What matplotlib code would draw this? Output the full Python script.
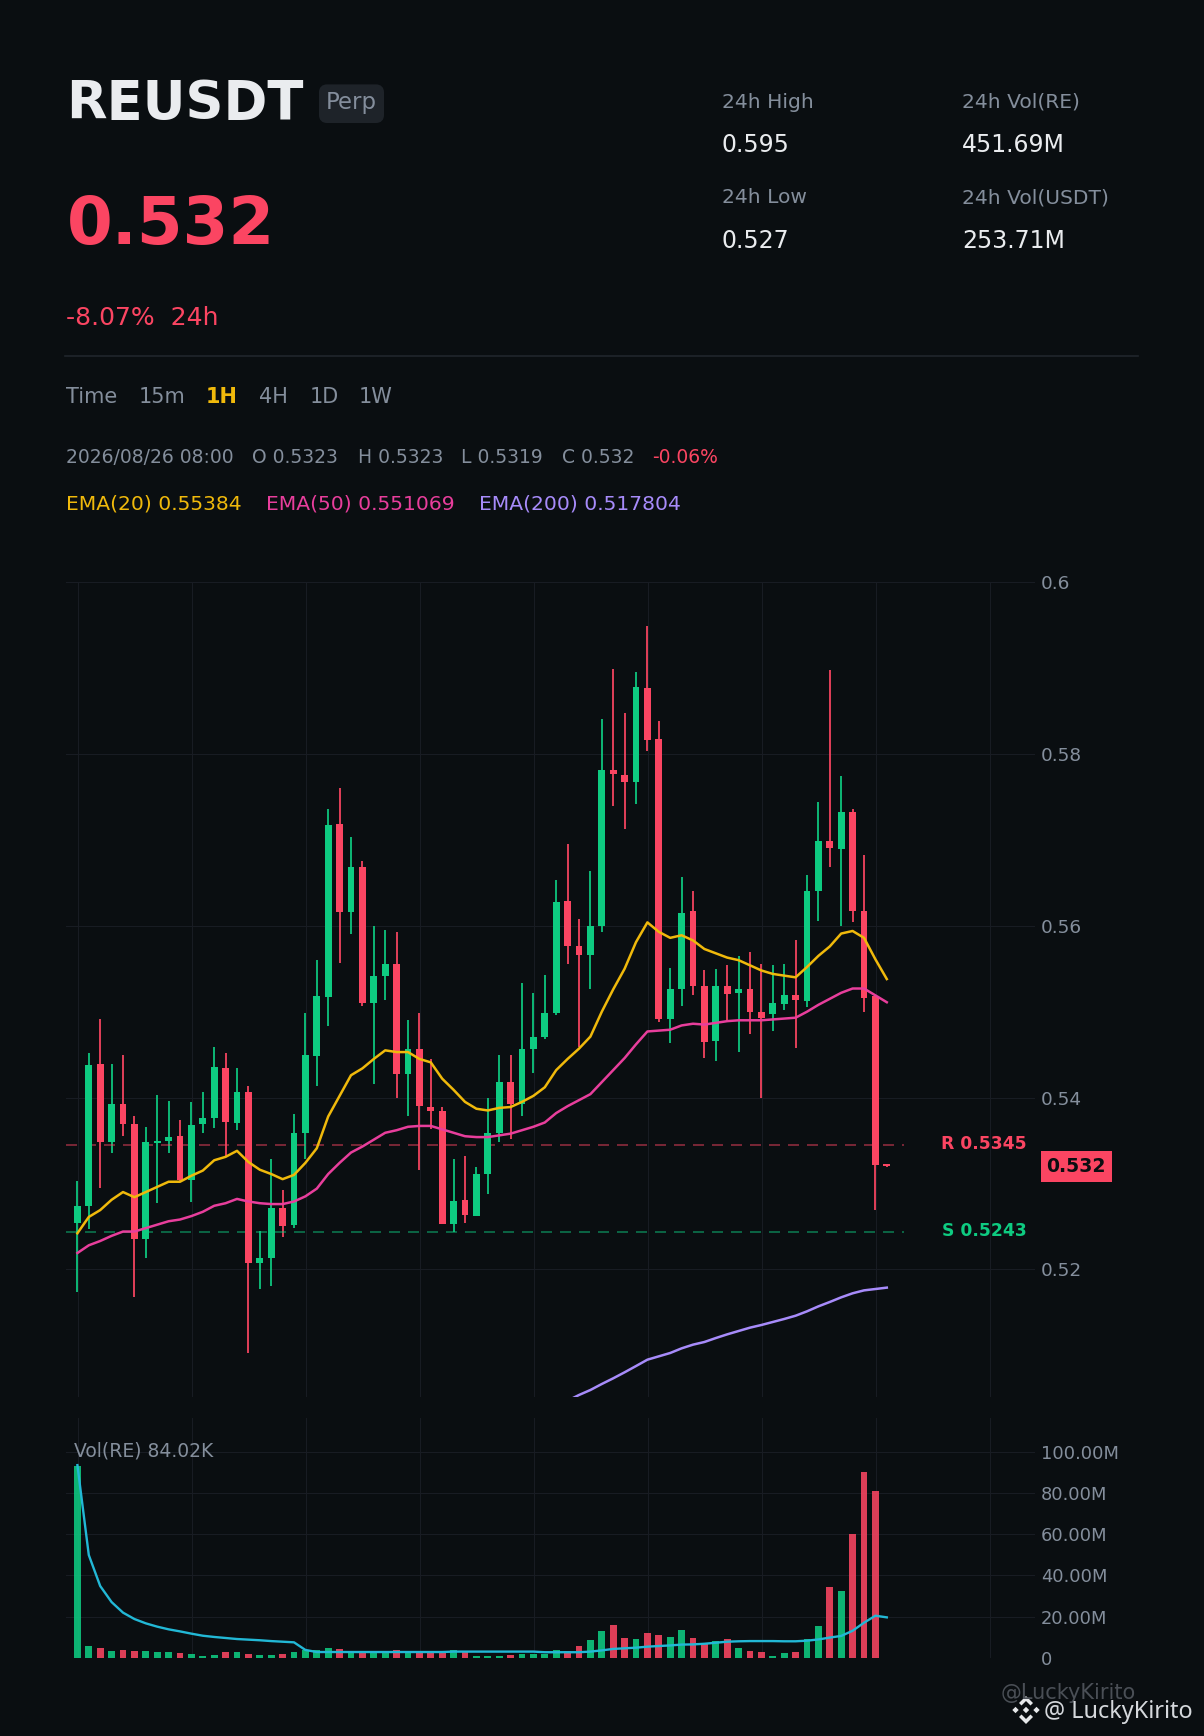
import matplotlib
matplotlib.use("Agg")
import matplotlib.pyplot as plt
from matplotlib.patches import FancyBboxPatch, Polygon, Rectangle
import numpy as np

W, H = 1204, 1736
BG = "#0a0e11"
UP = "#0ecb81"
DOWN = "#fb4562"
GRID = "#181c23"
MUTED = "#848e9c"
WHITE = "#eaecef"
YELLOW = "#f0b90b"
PINK = "#e83e9c"
PURPLE = "#a78bfa"
CYAN = "#22b8d6"

# candles, 1h
opens = [.5254, .5274, .5439, .5348, .5393, .5369, .5235, .5347, .5350, .5355, .5304, .5369,
         .5376, .5435, .5370, .5407, .5207, .5213, .5272, .5252, .5359, .5448, .5517, .5718,
         .5616, .5669, .5510, .5541, .5555, .5428, .5456, .5389, .5384, .5253, .5281, .5262,
         .5311, .5359, .5418, .5393, .5457, .5471, .5499, .5629, .5576, .5566, .5600, .5782,
         .5776, .5768, .5877, .5817, .5492, .5527, .5617, .5530, .5466, .5530, .5522, .5526,
         .5500, .5497, .5509, .5520, .5513, .5641, .5699, .5690, .5733, .5617, .5518, .5323]
highs = [.5303, .5452, .5491, .5439, .5449, .5379, .5366, .5403, .5396, .5374, .5395, .5407,
         .5459, .5452, .5435, .5414, .5245, .5329, .5292, .5381, .5499, .5560, .5736, .5760,
         .5704, .5676, .5600, .5595, .5593, .5490, .5499, .5445, .5389, .5328, .5332, .5319,
         .5399, .5449, .5450, .5533, .5522, .5543, .5653, .5695, .5608, .5664, .5841, .5899,
         .5848, .5895, .5949, .5838, .5551, .5657, .5641, .5549, .5550, .5554, .5565, .5570,
         .5556, .5554, .5555, .5584, .5659, .5744, .5898, .5775, .5736, .5683, .5518, .5323]
lows = [.5174, .5247, .5295, .5336, .5355, .5168, .5213, .5277, .5336, .5302, .5278, .5359,
        .5364, .5331, .5362, .5103, .5177, .5181, .5238, .5248, .5329, .5414, .5483, .5557,
        .5591, .5507, .5416, .5514, .5400, .5379, .5316, .5363, .5253, .5243, .5254, .5262,
        .5288, .5348, .5352, .5379, .5429, .5468, .5496, .5555, .5459, .5526, .5593, .5739,
        .5713, .5742, .5803, .5488, .5463, .5507, .5520, .5446, .5443, .5489, .5453, .5474,
        .5400, .5478, .5502, .5458, .5506, .5606, .5669, .5600, .5604, .5500, .5269, .5319]
closes = [.5274, .5438, .5348, .5393, .5369, .5235, .5348, .5350, .5354, .5304, .5368, .5376,
          .5436, .5371, .5407, .5207, .5213, .5271, .5250, .5359, .5449, .5518, .5717, .5616,
          .5669, .5510, .5541, .5555, .5428, .5457, .5390, .5384, .5253, .5279, .5263, .5311,
          .5359, .5418, .5393, .5457, .5470, .5498, .5628, .5577, .5566, .5600, .5782, .5777,
          .5768, .5878, .5816, .5491, .5527, .5615, .5530, .5465, .5530, .5521, .5527, .5500,
          .5493, .5510, .5520, .5514, .5640, .5699, .5691, .5733, .5617, .5516, .5321, .5320]

ema20 = [.5242, .5261, .5269, .5281, .5290, .5284, .5290, .5296, .5302, .5302, .5309, .5315,
         .5327, .5331, .5338, .5325, .5316, .5311, .5305, .5310, .5324, .5341, .5378, .5402,
         .5426, .5434, .5445, .5455, .5453, .5453, .5445, .5441, .5422, .5409, .5395, .5387,
         .5385, .5388, .5389, .5395, .5402, .5412, .5432, .5445, .5457, .5471, .5500, .5526,
         .5550, .5581, .5604, .5593, .5586, .5589, .5583, .5573, .5568, .5563, .5560, .5554,
         .5548, .5544, .5542, .5540, .5552, .5565, .5576, .5591, .5594, .5586, .5561, .5538]
ema50 = [.5219, .5228, .5233, .5239, .5244, .5244, .5248, .5252, .5256, .5258, .5262, .5267,
         .5274, .5277, .5282, .5279, .5277, .5276, .5276, .5279, .5285, .5294, .5311, .5324,
         .5336, .5343, .5351, .5359, .5362, .5366, .5367, .5367, .5363, .5359, .5355, .5354,
         .5354, .5356, .5358, .5362, .5366, .5371, .5382, .5390, .5397, .5404, .5418, .5432,
         .5446, .5462, .5477, .5478, .5479, .5484, .5486, .5485, .5487, .5489, .5490, .5490,
         .5490, .5491, .5492, .5493, .5500, .5508, .5515, .5522, .5527, .5527, .5519, .5511]
# ema200 only shows from candle 43 on, before that it is under the panel
ema200_start = 43
ema200 = [.5047, .50537, .50595, .50665, .50731, .50801, .50874, .50948, .50987, .51026,
          .5108, .51123, .51154, .512, .51243, .51282, .51321, .51352, .51387, .51422,
          .5146, .51511, .51569, .5162, .51674, .51721, .51755, .51771, .51787]

volume = [93.0, 5.8, 4.85, 3.4, 3.9, 3.4, 3.4, 2.9, 2.9, 2.4, 1.9, 1.0,
          1.5, 2.9, 2.9, 1.9, 1.5, 1.5, 1.9, 2.9, 3.9, 3.9, 4.85, 4.4,
          2.9, 2.4, 3.4, 2.9, 3.9, 2.9, 2.4, 2.9, 2.4, 3.9, 2.9, 1.0,
          1.0, 1.0, 1.5, 1.9, 1.9, 1.9, 3.9, 3.4, 5.8, 8.7, 13.1, 16.0,
          9.7, 9.2, 12.1, 11.1, 10.2, 13.6, 9.7, 6.8, 8.2, 9.2, 4.85, 3.4,
          2.9, 1.0, 2.4, 2.9, 9.2, 15.5, 34.4, 32.5, 60.0, 90.0, 81.0, 0.084]
vol_ma = [93.5, 49.9, 34.9, 27.1, 22.0, 18.9, 16.8, 15.2, 13.9, 12.9, 11.8, 10.8,
          10.2, 9.7, 9.2, 8.9, 8.6, 8.2, 7.9, 7.6, 3.9, 2.9, 2.9, 2.9,
          2.9, 2.9, 2.9, 2.9, 2.9, 2.9, 2.9, 2.9, 2.9, 3.1, 3.1, 3.1,
          3.1, 3.1, 3.1, 3.1, 3.1, 2.8, 2.8, 2.8, 2.8, 3.1, 3.7, 4.4,
          4.7, 5.0, 5.5, 5.8, 6.1, 6.5, 6.6, 6.9, 7.4, 7.9, 8.1, 8.2,
          8.2, 8.2, 8.1, 8.1, 8.4, 9.0, 9.9, 10.7, 13.2, 17.1, 20.5, 19.7]

resistance = 0.5345
support = 0.5243
last_price = 0.532
price_ticks = [0.52, 0.54, 0.56, 0.58, 0.6]
price_labels = ["0.52", "0.54", "0.56", "0.58", "0.6"]
vol_ticks = [0, 20, 40, 60, 80, 100]
vol_labels = ["0", "20.00M", "40.00M", "60.00M", "80.00M", "100.00M"]
# gridlines sit a touch right of the candle centres in the reference
time_ticks = [0.08, 10.08, 20.08, 30.08, 40.08, 50.08, 60.08, 70.08, 80.08]

plt.rcParams["font.family"] = "DejaVu Sans"
fig = plt.figure(figsize=(W / 100, H / 100), dpi=100, facecolor=BG)


def panel(left, top, right, bottom):
    a = fig.add_axes([left / W, 1 - bottom / H, (right - left) / W, (bottom - top) / H])
    a.set_facecolor(BG)
    for s in a.spines.values():
        s.set_visible(False)
    a.set_axisbelow(True)
    a.grid(color=GRID, linewidth=0.8)
    a.set_xticks(time_ticks)
    a.set_xlim(-1.0, 84.0)
    a.yaxis.tick_right()
    a.tick_params(length=0, labelbottom=False, pad=4.4, labelcolor=MUTED)
    return a


x = np.arange(len(closes))
colors = [UP if c >= o else DOWN for o, c in zip(opens, closes)]
tops = [max(o, c) for o, c in zip(opens, closes)]
bottoms = [min(o, c) for o, c in zip(opens, closes)]

# price panel
ax = panel(66, 582.3, 1035, 1396.7)
ax.set_ylim(0.50517, 0.6)
ax.set_yticks(price_ticks)
ax.set_yticklabels(price_labels, fontsize=13.3)
ax.vlines(x, lows, highs, colors=colors, linewidth=1.44, alpha=0.88, zorder=2)
ax.bar(x, np.array(tops) - np.array(bottoms), bottom=bottoms, width=0.61, color=colors, zorder=3)
ax.hlines(resistance, -1.0, 72.5, color=DOWN, alpha=0.45, linewidth=1.44, linestyle=(0, (5.5, 4)), zorder=2.5)
ax.hlines(support, -1.0, 72.5, color=UP, alpha=0.45, linewidth=1.44, linestyle=(0, (5.5, 4)), zorder=2.5)
ax.plot(x, ema20, color=YELLOW, linewidth=1.8, zorder=4)
ax.plot(x, ema50, color=PINK, linewidth=1.8, zorder=4)
ax.plot(np.arange(ema200_start, len(closes)), ema200, color=PURPLE, linewidth=1.8, zorder=4)

# volume panel
vax = panel(66, 1418.3, 1035, 1658)
vax.set_ylim(0, 116.2)
vax.set_yticks(vol_ticks)
vax.set_yticklabels(vol_labels, fontsize=12.9)
vax.get_ygridlines()[0].set_visible(False)
vax.bar(x, volume, width=0.61, color=colors, alpha=0.88, zorder=2)
vax.plot(x, vol_ma, color=CYAN, linewidth=1.7, zorder=3)

# overlay in picture pixels for the header and the labels
px = fig.add_axes([0, 0, 1, 1], zorder=5)
px.set_xlim(0, W)
px.set_ylim(H, 0)
px.axis("off")


def label(xp, yp, s, size, color=MUTED, **kw):
    px.text(xp, yp, s, fontsize=size, color=color, va=kw.pop("va", "baseline"), **kw)


label(66.3, 118.8, "REUSDT", 38, WHITE, fontweight="bold")
px.add_patch(FancyBboxPatch((323, 88.4), 57, 30.6, boxstyle="round,pad=0,rounding_size=4",
                            mutation_aspect=1, linewidth=8 * 0.72, edgecolor="#1e2329", facecolor="#1e2329"))
label(325.4, 109.5, "Perp", 16.4)
label(66.5, 244, "0.532", 47.3, DOWN, fontweight="bold")
label(65.8, 324.7, "-8.07%  24h", 18, DOWN)
px.plot([65.3, 1137.5], [356, 356], color="#20252c", linewidth=1.2)

label(721.5, 107.8, "24h High", 14.6)
label(721.5, 151.8, "0.595", 17, WHITE)
label(721.5, 203, "24h Low", 14.6)
label(721.5, 247.5, "0.527", 17, WHITE)
label(962, 107.8, "24h Vol(RE)", 14.6)
label(962, 151.8, "451.69M", 17, WHITE)
label(962, 203, "24h Vol(USDT)", 14.6)
label(962, 247.5, "253.71M", 17, WHITE)

label(65.5, 403, "Time", 15)
label(138.8, 403, "15m", 15)
label(205.6, 403, "1H", 15, YELLOW, fontweight="bold")
label(259.4, 403, "4H", 15)
label(310, 403, "1D", 15)
label(359, 403, "1W", 15)

label(65.8, 462.8, "2026/08/26 08:00", 13.5)
label(251.7, 462.8, "O 0.5323", 13.5)
label(357.7, 462.8, "H 0.5323", 13.5)
label(461.4, 462.8, "L 0.5319", 13.5)
label(562, 462.8, "C 0.532", 13.5)
label(652.6, 462.8, "-0.06%", 13.5, DOWN)

label(65.8, 509.3, "EMA(20) 0.55384", 14.6, YELLOW)
label(266, 509.3, "EMA(50) 0.551069", 14.6, PINK)
label(479, 509.3, "EMA(200) 0.517804", 14.6, PURPLE)

label(1026.7, 1144.3, "R 0.5345", 12.3, DOWN, fontweight="bold", ha="right", va="center")
label(1026.7, 1231, "S 0.5243", 12.3, UP, fontweight="bold", ha="right", va="center")
px.add_patch(Rectangle((1040.5, 1151), 71, 30.7, facecolor=DOWN, edgecolor="none"))
label(1076, 1166.6, "0.532", 13.6, BG, fontweight="bold", ha="center", va="center")
label(74.3, 1456.7, "Vol(RE) 84.02K", 13.5)

# watermark
label(1001, 1699, "@LuckyKirito", 15, "#4a4f56")
label(1044, 1718, "@ LuckyKirito", 16.9, "#d5d8dc", family="Noto Sans")
cx, cy = 1026, 1710
logo_top = [(0, -14), (7, -7), (4.5, -4.5), (0, -9), (-4.5, -4.5), (-7, -7)]
logo_bottom = [(a, -b) for a, b in logo_top]
logo_mid = [(0, -3.2), (3.2, 0), (0, 3.2), (-3.2, 0)]
for shape, dx in [(logo_top, 0), (logo_bottom, 0), (logo_mid, 0), (logo_mid, -10.5), (logo_mid, 10.5)]:
    px.add_patch(Polygon([(cx + a + dx, cy + b) for a, b in shape], facecolor="#e6e8ea", edgecolor="none"))

fig.savefig("out.png", dpi=100, facecolor=BG)
